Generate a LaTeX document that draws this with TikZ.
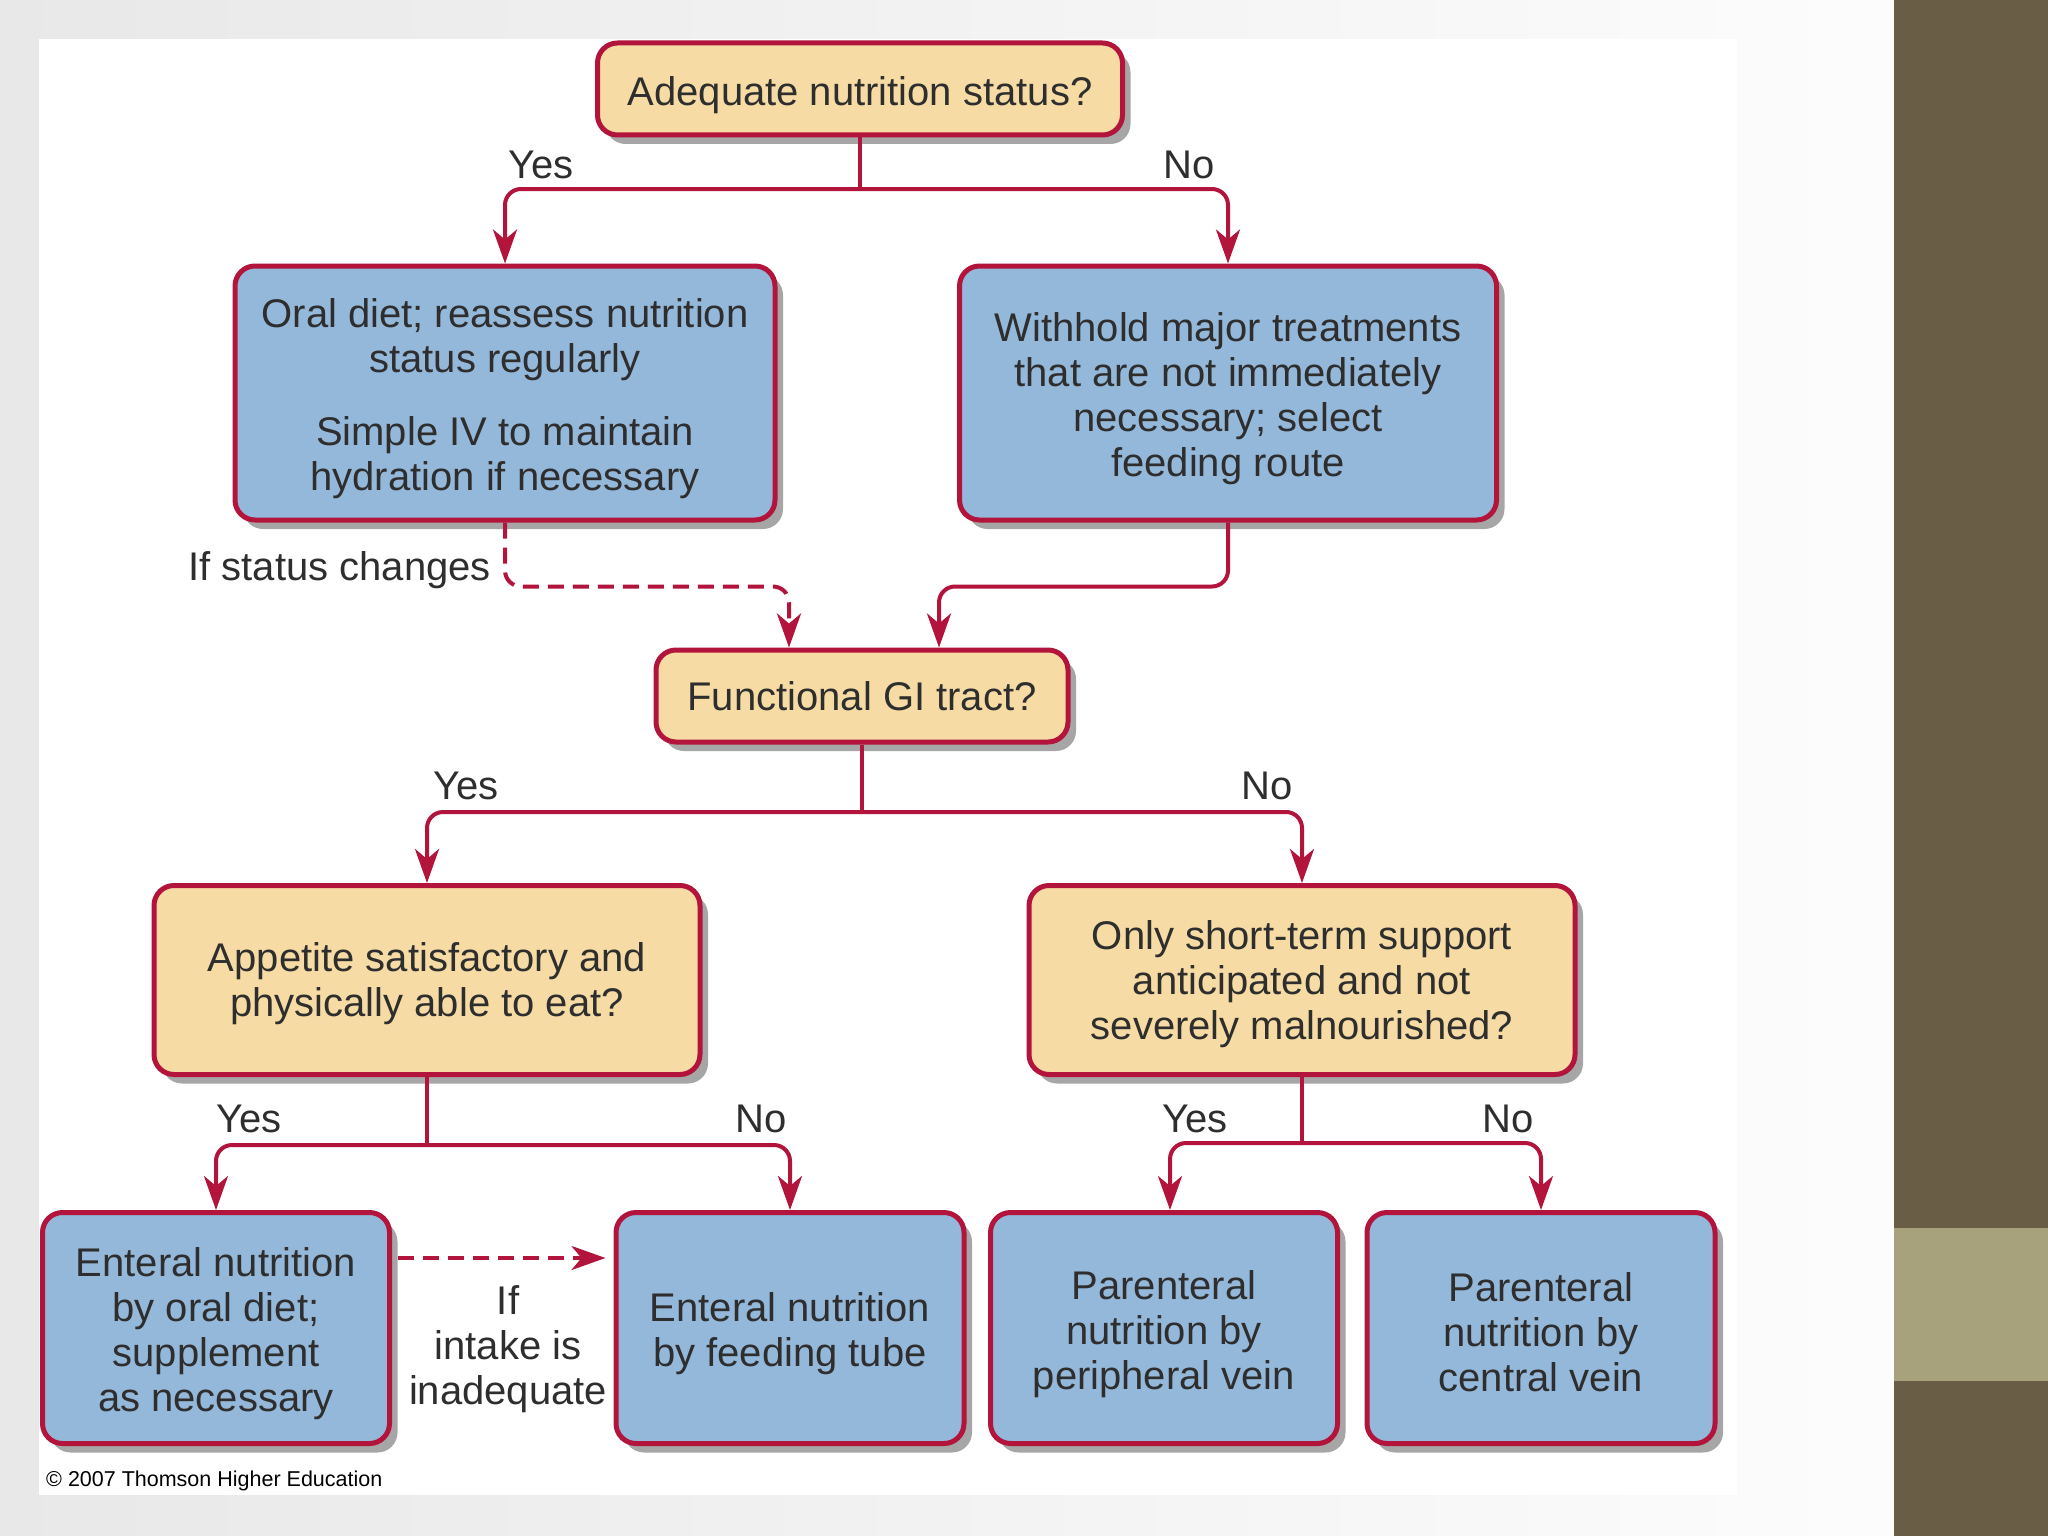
\documentclass[tikz,border=0pt]{standalone}
\usepackage{fontspec}
\setmainfont{Liberation Sans}
\usepackage{tikz}
\usetikzlibrary{
    calc,
    positioning,
    arrows.meta,
    shadows
}

\definecolor{crimson}{HTML}{B3143C}
\definecolor{askfill}{HTML}{F6DCA4}
\definecolor{dofill}{HTML}{94B8DA}
\definecolor{inkgray}{HTML}{2E2E2E}
\definecolor{bardark}{HTML}{6A5D45}
\definecolor{barlight}{HTML}{A8A27C}

\newcommand{\sinkline}[1][41pt]{\rule{0pt}{#1}}

\tikzset{
    box/.style={draw=crimson, line width=5pt, rounded corners=20pt, align=center,
        text=inkgray, font=\fontsize{40}{45}\selectfont,
        drop shadow={shadow xshift=8pt, shadow yshift=-9pt, fill=black, opacity=0.35}},
    ask/.style={box, fill=askfill},
    act/.style={box, fill=dofill},
    link/.style={draw=crimson, line width=4pt, rounded corners=16pt},
    arr/.style={link, -{Stealth[length=34pt,width=24pt,inset=10pt]}},
    dashlink/.style={arr, dash pattern=on 16pt off 9pt},
    lbl/.style={text=inkgray, font=\fontsize{40}{45}\selectfont, align=center, inner sep=2pt}
}

\begin{document}
\begin{tikzpicture}[x=1pt,y=-1pt]

\useasboundingbox (0,0) rectangle (2048,1536);
\fill[left color=gray!18, right color=gray!2] (0,0) rectangle (1894,1536);
\fill[white] (39,39) rectangle (1737,1495);
\fill[bardark] (1894,0) rectangle (2048,1536);
\fill[barlight] (1894,1228) rectangle (2048,1381);

\node[ask, minimum width=525pt, minimum height=92pt] (adequate) at (860,89) {\sinkline Adequate nutrition status?};
\node[act, minimum width=540pt, minimum height=254pt] (oral) at (505,393)
    {\sinkline Oral diet; reassess nutrition\\status regularly\\[28pt]Simple IV to maintain\\hydration if necessary};
\node[act, minimum width=537pt, minimum height=254pt] (withhold) at (1228,393)
    {\sinkline Withhold major treatments\\that are not immediately\\necessary; select\\feeding route};
\node[ask, minimum width=412pt, minimum height=92pt] (functional) at (862,696) {Functional GI tract?};
\node[ask, minimum width=546pt, minimum height=189pt] (appetite) at (427,980)
    {\sinkline[37pt]Appetite satisfactory and\\physically able to eat?};
\node[ask, minimum width=546pt, minimum height=189pt] (shortterm) at (1302,980)
    {\sinkline[37pt]Only short-term support\\anticipated and not\\severely malnourished?};
\node[act, minimum width=347pt, minimum height=231pt] (oralsup) at (216,1328)
    {\sinkline Enteral nutrition\\by oral diet;\\supplement\\as necessary};
\node[act, minimum width=348pt, minimum height=231pt] (tube) at (790,1328)
    {\sinkline Enteral nutrition\\by feeding tube};
\node[act, minimum width=347pt, minimum height=231pt] (periph) at (1164,1328)
    {\sinkline Parenteral\\nutrition by\\peripheral vein};
\node[act, minimum width=348pt, minimum height=231pt] (central) at (1541,1328)
    {\sinkline[37pt]Parenteral\\nutrition by\\central vein};

% first question
\draw[link] (adequate.south) -- (adequate.south |- 0,189) coordinate (fork1);
\draw[arr] (fork1) -| (oral.north);
\draw[arr] (fork1) -| (withhold.north);
\node[lbl] (yes1) at (541,165) {Yes};
\node[lbl] (no1) at (1189,165) {No};

\draw[dashlink] (oral.south) -- ++(0,64) -| ($(functional.north)+(-73,0)$);
\draw[arr] (withhold.south) -- ++(0,64) -| ($(functional.north)+(77,0)$);
\node[lbl, anchor=east] (ifstatus) at (493,570) {If status changes};

% GI tract
\draw[link] (functional.south) -- (functional.south |- 0,812) coordinate (fork2);
\draw[arr] (fork2) -| (appetite.north);
\draw[arr] (fork2) -| (shortterm.north);
\node[lbl] (yes2) at (466,786) {Yes};
\node[lbl] (no2) at (1267,786) {No};

\draw[link] (appetite.south) -- (appetite.south |- 0,1145) coordinate (fork3);
\draw[arr] (fork3) -| (oralsup.north);
\draw[arr] (fork3) -| (tube.north);
\node[lbl] (yes3) at (249,1119) {Yes};
\node[lbl] (no3) at (761,1119) {No};

\draw[link] (shortterm.south) -- (shortterm.south |- 0,1143) coordinate (fork4);
\draw[arr] (fork4) -| ($(periph.north)+(6,0)$);
\draw[arr] (fork4) -| (central.north);
\node[lbl] (yes4) at (1195,1119) {Yes};
\node[lbl] (no4) at (1508,1119) {No};

\draw[dashlink, shorten <=6pt, shorten >=8pt] ($(oralsup.east)+(0,-70)$) -- ($(tube.west)+(0,-70)$);
\node[lbl] (intake) at (508,1349) {If\\intake is\\inadequate};

\node[anchor=west, text=black, font=\fontsize{21.5}{26}\selectfont, inner sep=0pt] (copyright) at (46,1481)
    {© 2007 Thomson Higher Education};

\end{tikzpicture}
\end{document}
